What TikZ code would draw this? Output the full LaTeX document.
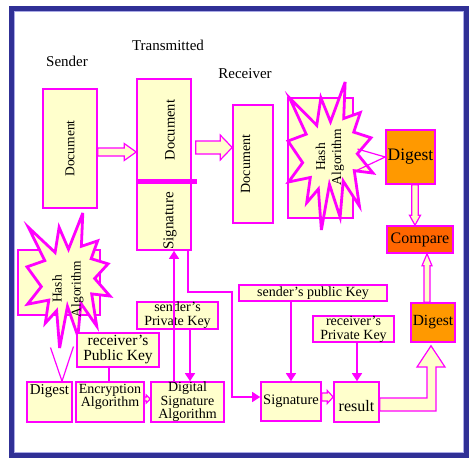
\documentclass[tikz,border=0pt]{standalone}
\usepackage{fontspec}
\setmainfont{Liberation Serif}
\usepackage{graphicx}
\usetikzlibrary{arrows.meta,calc}
\definecolor{mag}{RGB}{255,0,255}
\definecolor{yel}{RGB}{255,255,204}
\definecolor{org}{RGB}{255,153,0}
\definecolor{dorg}{RGB}{255,102,0}
\definecolor{frameblue}{RGB}{48,48,150}
\definecolor{framelight}{RGB}{170,170,230}
\newcommand\fs[1]{\fontsize{#1}{#1}\selectfont}
% hollow horizontal arrow: from, to, y, shaft half, head half, head length
\newcommand\harrowh[6]{\draw[harrow] let \p1=(#1), \p2=(#2), \p3=(0,#3) in
 (\x1,{\y3+#4pt}) -- ({\x2-#6pt},{\y3+#4pt}) -- ({\x2-#6pt},{\y3+#5pt}) -- (\x2,\y3) --
 ({\x2-#6pt},{\y3-#5pt}) -- ({\x2-#6pt},{\y3-#4pt}) -- (\x1,{\y3-#4pt}) -- cycle;}
% hollow vertical arrow: from, to, x, shaft half, head half, signed head length
\newcommand\harrowv[6]{\draw[harrow] let \p1=(#1), \p2=(#2), \p3=(#3,0) in
 ({\x3-#4pt},\y1) -- ({\x3-#4pt},{\y2+(#6pt)}) -- ({\x3-#5pt},{\y2+(#6pt)}) -- (\x3,\y2) --
 ({\x3+#5pt},{\y2+(#6pt)}) -- ({\x3+#4pt},{\y2+(#6pt)}) -- ({\x3+#4pt},\y1) -- cycle;}
% explosion shape: name, left, top, width, height
\newcommand\explosion[5]{%
\begin{scope}[shift={(#2,#3)}, xscale=#4/216, yscale=#5/216]
\draw[burst] (108,58) -- (145.22,0) -- (141.55,53.25) -- (183.80,44.57) -- (167.02,73.15) --
 (210.97,81.37) -- (176.07,104.75) -- (216,132.90) -- (168.37,129.42) -- (181.45,180.95) --
 (140.20,144.57) -- (132.47,197.37) -- (105.32,149.35) -- (84.85,216) -- (77.15,156.27) --
 (47.62,176.17) -- (56.67,139.37) -- (1.35,145.87) -- (37.22,117.75) -- (0,86.15) --
 (46.27,76.17) -- (3.70,22.95) -- (73.12,63.20) -- (83.52,22.95) -- cycle;
\coordinate (#1) at (108,108);
\end{scope}}
\begin{document}
\begin{tikzpicture}[x=1pt,y=-1pt,
  box/.style={draw=mag, fill=yel, line width=1.6pt, inner sep=0pt, align=center},
  obox/.style={box, fill=org},
  dbox/.style={box, fill=dorg},
  txt/.style={inner sep=0pt, align=center},
  rtxt/.style={txt, rotate=90},
  conn/.style={draw=mag, line width=1.4pt, -{Triangle[length=8pt,width=10pt]}},
  plain/.style={draw=mag, line width=1.2pt},
  harrow/.style={draw=mag, fill=yel, line width=1.2pt, line join=miter},
  burst/.style={draw=mag, fill=yel, line width=2.8pt, line join=miter, miter limit=6}]
\useasboundingbox (0,0) rectangle (474,463);
\fill[white] (0,0) rectangle (474,463);
% frame
\draw[frameblue, line width=5pt] (11,8.5) rectangle (466.5,455.5);
\draw[framelight, line width=0.8pt] (14,11.5) rectangle (463.5,452.5);

% headings
\node[txt, font=\fs{15}] (lsender) at (67,61) {Sender};
\node[txt, font=\fs{15}] (ltrans) at (168,45) {Transmitted};
\node[txt, font=\fs{15}] (lrecv) at (245,74) {Receiver};

% top row
\node[box, minimum width=54pt, minimum height=119pt, font=\fs{13.5}] (sdoc) at (70,148.5) {\rotatebox{90}{Document}};
\node[box, minimum width=54pt, minimum height=102pt] (ttop) at (164,130) {};
\node[box, minimum width=54pt, minimum height=69pt] (tsig) at (164,215.5) {};
\draw[mag, line width=5pt] (ttop.south west) -- ($(ttop.south east)+(5,0)$);
\node[rtxt, font=\fs{14.5}] (ttopT) at (170,130) {Document};
\node[rtxt, font=\fs{15}] (tsigT) at (170,221) {Signature};
\node[box, minimum width=40pt, minimum height=118pt] (rdoc) at (253,164) {};
\node[rtxt, font=\fs{14}] (rdocT) at (245.5,164) {Document};

\node[box, minimum width=65pt, minimum height=120pt] (rhb) at (320.5,158) {};
\explosion{rstar}{288}{82}{85}{148}
\node[rtxt, font=\fontsize{13.5}{16}\selectfont] (rhashT) at (330,157) {Hash\\Algorithm};

\node[obox, minimum width=49pt, minimum height=54pt, font=\fs{17.5}] (rdig) at (410.5,157) {Digest};
\node[dbox, minimum width=66pt, minimum height=27pt, font=\fs{16}] (cmp) at (420,239.5) {Compare};
\node[obox, minimum width=44pt, minimum height=39pt, font=\fs{15.5}] (ldig) at (433,322.5) {Digest};
\draw[plain] ($(rstar)+(27,-7)$) -- (rdig.west) -- ($(rstar)+(25,15)$);

% sender bottom
\node[box, minimum width=82pt, minimum height=65pt] (shb) at (59,282.5) {};
\explosion{sstar}{27}{213}{83}{135}
\node[rtxt, font=\fontsize{13.5}{19}\selectfont] (shashT) at (68,289) {Hash\\Algorithm};
\node[box, minimum width=45pt, minimum height=40pt] (sdig) at (49.5,402) {};
\node[txt, font=\fs{15}] (sdigT) at (49.5,391) {Digest};
\draw[plain] ($(sstar)+(-18,67)$) -- (sdig.north -| 62,0) -- ($(sstar)+(5,66)$);

\node[box, minimum width=82pt, minimum height=34pt, font=\fontsize{15.5}{15}\selectfont] (rpub) at (118,350) {receiver’s\\Public Key};
\node[box, minimum width=68pt, minimum height=40pt] (enc) at (110,402) {};
\node[txt, font=\fontsize{14}{13}\selectfont] (encT) at (110,396.5) {Encryption\\Algorithm};
\node[box, minimum width=73pt, minimum height=40pt, font=\fontsize{14}{13.5}\selectfont] (dsa) at (187.5,402) {Digital\\Signature\\Algorithm};
\node[box, minimum width=81pt, minimum height=25pt, font=\fontsize{14}{14}\selectfont] (spriv) at (177.5,315.5) {sender’s\\Private Key};

% receiver bottom
\node[box, minimum width=148pt, minimum height=16pt, font=\fs{14}] (spub) at (313,293) {sender’s public Key};
\node[box, minimum width=81pt, minimum height=26pt, font=\fontsize{14}{14}\selectfont] (rpriv) at (353.5,329) {receiver’s\\Private Key};
\node[box, minimum width=60pt, minimum height=39pt, font=\fs{14.5}] (rsig) at (291,401.5) {Signature};
\node[box, minimum width=45pt, minimum height=40pt] (res) at (356.5,402) {};
\node[txt, font=\fs{16}] (resT) at (356.5,406) {result};

% hollow arrows
\harrowh{sdoc.east}{ttop.west}{152}{4}{8.5}{12}
\harrowh{$(ttop.east)+(4,0)$}{rdoc.west}{147.5}{6.5}{12.5}{12}
\harrowv{rdig.south}{cmp.north}{415}{3.3}{5.5}{10}
\harrowv{ldig.north}{cmp.south}{427}{3}{5}{-12}
\harrowh{enc.east}{dsa.west}{399}{2}{4}{4}
\harrowh{rsig.east}{res.west}{397}{4}{6.5}{6}
\draw[harrow] (res.east |- 0,398) -- (427,398) -- (427,367) -- (417,367) --
  ($(ldig.south -| 431,0)+(0,3)$) -- (445,367) -- (436,367) -- (436,411) --
  (res.east |- 0,411) -- cycle;

% connectors
\draw[plain] (rpub.south -| 109,0) -- (enc.north -| 109,0);
\draw[conn] (spriv.south -| 190,0) -- (dsa.north -| 190,0);
\draw[conn] (dsa.north -| 174,0) -- (tsig.south -| 174,0);
\draw[conn] (tsig.south -| 188,0) -- (188,292) -- (232,292) -- (232,397) -- (rsig.west |- 0,397);
\draw[conn] (spub.south -| 291,0) -- (rsig.north -| 291,0);
\draw[conn] (rpriv.south -| 357,0) -- (res.north -| 357,0);
\end{tikzpicture}
\end{document}
